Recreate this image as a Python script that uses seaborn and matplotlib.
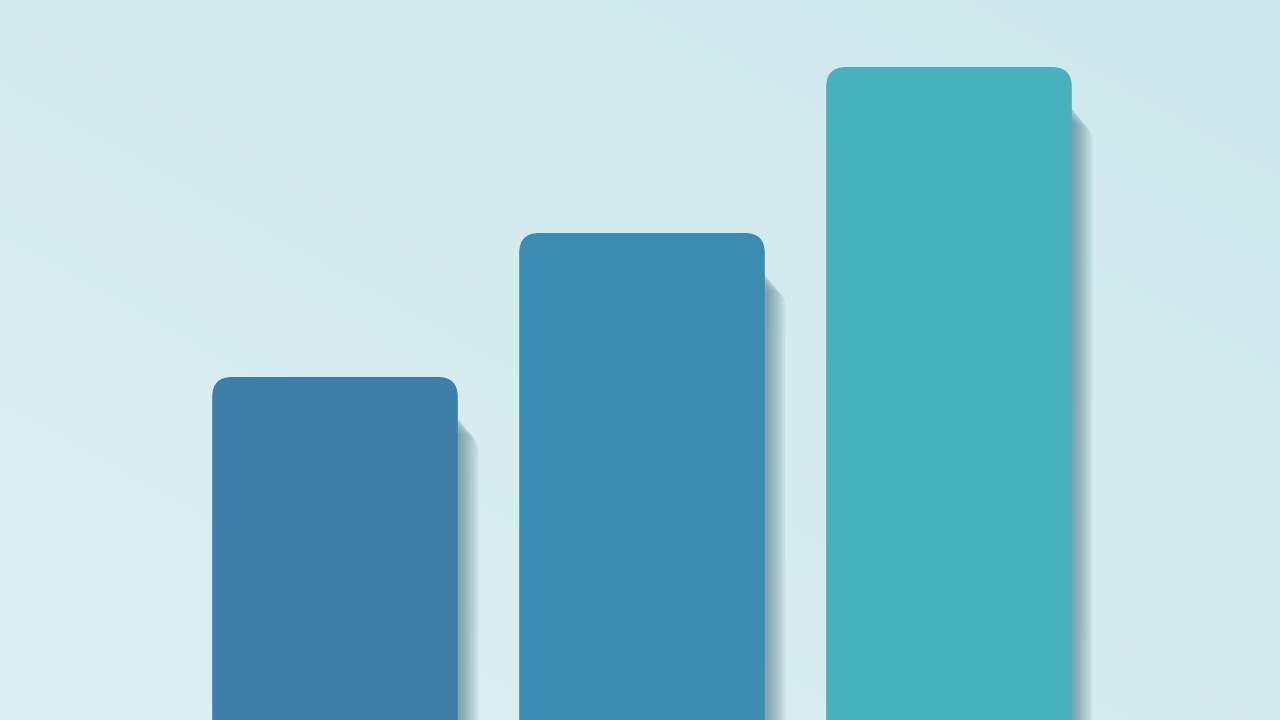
import numpy as np
import pandas as pd
import seaborn as sns
from matplotlib import pyplot as plt
from matplotlib.patches import FancyBboxPatch

# bar data (height in pixels above the bottom edge)
categories = ["A", "B", "C"]
values = [343, 487, 653]
bar_colors = ["#3d7fa9", "#3a8db0", "#45b2be"]

df = pd.DataFrame({"category": categories, "value": values})

sns.set_theme(style="white")
fig = plt.figure(figsize=(12.8, 7.2), dpi=100)
ax = fig.add_axes([0, 0, 1, 1])

# soft background, a little lighter towards the lower left
gx = np.linspace(0, 1, 256)
gy = np.linspace(0, 1, 256)
X, Y = np.meshgrid(gx, gy)
shade = 0.5 * X + 0.5 * Y
bg_lo = np.array([0.86, 0.94, 0.95])
bg_hi = np.array([0.81, 0.91, 0.93])
img = bg_lo[None, None, :] * (1 - shade[..., None]) + bg_hi[None, None, :] * shade[..., None]

px_per_unit = 307.0
x_left = -335 / px_per_unit
x_right = (1280 - 335) / px_per_unit
ax.imshow(img, extent=[x_left, x_right, 0, 720], origin="lower", aspect="auto", zorder=0)

sns.barplot(data=df, x="category", y="value", hue="category", palette=bar_colors,
            width=0.8, legend=False, ax=ax, zorder=2)

# swap the square bars for rounded ones with a soft shadow on the right
for patch, col in zip(list(ax.patches), bar_colors):
    x0, w, h = patch.get_x(), patch.get_width(), patch.get_height()
    patch.remove()
    for k in range(8):
        off = (3 + 2.5 * k) / px_per_unit
        sh = FancyBboxPatch((x0 + off, -60), w, h + 60 - 35 - 3 * k,
                            boxstyle="round,pad=0,rounding_size=0.06",
                            mutation_aspect=px_per_unit, linewidth=0,
                            facecolor="#2a5c70", alpha=0.08, zorder=1)
        ax.add_patch(sh)
    bar = FancyBboxPatch((x0, -60), w, h + 60,
                         boxstyle="round,pad=0,rounding_size=0.065",
                         mutation_aspect=px_per_unit, linewidth=0,
                         facecolor=col, zorder=3)
    ax.add_patch(bar)

ax.set_xlim(x_left, x_right)
ax.set_ylim(0, 720)
ax.set_axis_off()

fig.savefig("out.png", dpi=100)
